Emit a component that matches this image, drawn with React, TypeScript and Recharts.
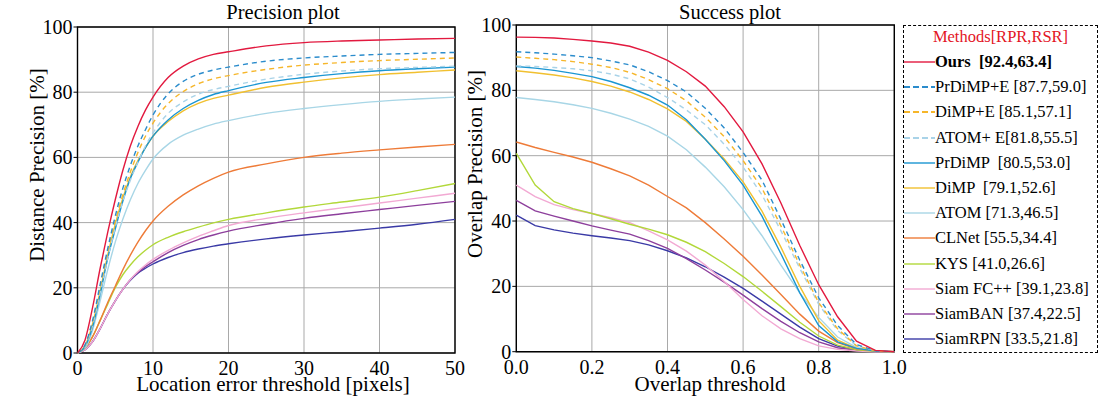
import { CartesianGrid, Line, LineChart, ReferenceArea, XAxis, YAxis } from 'recharts'

// precision plot: location error threshold in pixels
const precisionX = [0, 1, 2, 3, 4, 5, 6, 7, 8, 9, 10, 12, 14, 16, 18, 20, 25, 30, 35, 40, 45, 50]
const precisionTicks = [0, 10, 20, 30, 40, 50]

const oursP = [0, 4, 14, 26, 37, 47, 56, 63.5, 69.5, 74.5, 78.5, 84.5, 88, 90.2, 91.6, 92.4, 94.2, 95.2, 95.7, 96, 96.3, 96.5]
const prdimpEP = [0, 2.5, 10, 21, 32, 42, 50.5, 57.5, 63.5, 68.5, 73, 79.5, 83.3, 85.5, 86.8, 87.7, 89.5, 90.5, 91.1, 91.6, 91.9, 92.2]
const dimpEP = [0, 2.3, 9.5, 20, 31, 40.5, 48.5, 55.5, 61.5, 66.5, 70.5, 76.5, 80.2, 82.6, 84.1, 85.1, 87, 88.3, 89.1, 89.7, 90.1, 90.5]
const atomEP = [0, 2, 8.5, 18.5, 29, 38.5, 46.5, 53, 58.5, 63.5, 67.5, 73.5, 77, 79.4, 80.8, 81.8, 84, 85.5, 86.5, 87.2, 87.6, 88]
const prdimpP = [0, 2, 8, 18, 29, 38, 46.5, 53.5, 58.5, 63, 66.5, 71.5, 75, 77.5, 79.3, 80.5, 83, 84.5, 85.7, 86.6, 87.2, 87.7]
const dimpP = [0, 2.2, 9, 19, 30, 39.5, 47.5, 54, 59, 63, 66.5, 71, 74.3, 76.6, 78.1, 79.1, 81.5, 83.1, 84.4, 85.4, 86.1, 86.8]
const atomP = [0, 1.5, 7, 16, 25.5, 34, 41, 47, 52, 56, 59.5, 64, 66.8, 68.7, 70.2, 71.3, 73.5, 75, 76.2, 77.2, 77.9, 78.5]
const clnetP = [0, 1.5, 5, 10, 15.5, 20.5, 25.5, 30, 34, 37.5, 40.5, 45, 48.5, 51.3, 53.6, 55.5, 58, 60, 61.3, 62.3, 63.2, 64]
const kysP = [0, 1.5, 5, 10, 15, 20, 24, 27, 29.5, 31.5, 33.2, 35.5, 37.2, 38.6, 39.9, 41, 43, 44.8, 46.3, 47.8, 49.8, 52]
const siamfcP = [0, 1, 3.5, 7.5, 12, 16, 19.5, 22.5, 25, 27, 28.7, 31.5, 33.8, 35.8, 37.5, 39.1, 41.3, 43, 44.5, 46, 47.5, 49]
const siambanP = [0, 1, 3.5, 7.5, 12, 16, 19.5, 22.5, 24.7, 26.5, 28, 30.8, 33, 34.8, 36.2, 37.4, 39.5, 41.3, 42.7, 44, 45.3, 46.5]
const siamrpnP = [0, 1, 3.5, 7.5, 12, 16, 19.5, 22.3, 24.5, 26, 27.3, 29.3, 30.8, 31.9, 32.8, 33.5, 35, 36.2, 37.2, 38.3, 39.5, 41]

// success plot: overlap threshold
const successX = [0, 0.05, 0.1, 0.15, 0.2, 0.25, 0.3, 0.35, 0.4, 0.45, 0.5, 0.55, 0.6, 0.65, 0.7, 0.75, 0.8, 0.85, 0.9, 0.95, 1]
const successTicks = [0, 0.2, 0.4, 0.6, 0.8, 1]

const oursS = [96.3, 96.2, 96, 95.6, 95.1, 94.5, 93.5, 91.7, 89.2, 85.7, 81.3, 75, 67.3, 57.5, 45.5, 32.5, 20.5, 10.7, 3.2, 0.4, 0]
const prdimpES = [91.8, 91.5, 91.1, 90.6, 90, 89, 87.8, 85.7, 83, 79.5, 74.5, 68.5, 61, 52.5, 40.5, 28, 16.5, 8, 2.2, 0.3, 0]
const dimpES = [90.2, 89.8, 89.4, 88.8, 88, 87, 85.5, 83.3, 80.5, 76.8, 71.8, 65.8, 58.5, 50, 38.5, 26.5, 15, 7, 1.8, 0.3, 0]
const atomES = [87.5, 87.3, 87, 86.6, 86, 85, 83.5, 81, 77.8, 74, 69.5, 63.5, 56.5, 48, 37, 25.5, 14.5, 6.5, 1.8, 0.3, 0]
const prdimpS = [87.3, 86.8, 86.1, 85.2, 84.2, 82.7, 80.8, 78.5, 75.5, 71, 65, 58.5, 51, 41.5, 30, 18, 8, 3, 1, 0.2, 0]
const dimpS = [86, 85.4, 84.7, 83.8, 82.7, 81.3, 79.5, 77.2, 74.3, 70.5, 65, 59, 52, 43, 32, 20, 9.5, 3.5, 1, 0.2, 0]
const atomS = [77.8, 77.2, 76.5, 75.6, 74.5, 73, 71.2, 69, 66, 61.8, 56.5, 50.5, 43.5, 35.5, 26.5, 18, 10.5, 4.5, 1.3, 0.2, 0]
const clnetS = [64.2, 62.5, 61, 59.6, 58, 56, 53.8, 51, 47.5, 44, 39.5, 34.5, 29.2, 23.5, 17.5, 11.5, 6.3, 2.8, 0.9, 0.2, 0]
const kysS = [60.7, 51, 45.9, 43.8, 42.3, 40.7, 39, 37.5, 35.8, 33.5, 30.6, 27, 23, 18.5, 13.8, 9, 4.8, 2, 0.6, 0.1, 0]
const siamfcS = [51, 47.5, 45, 43.5, 42.3, 41, 39.5, 37, 34.2, 30.8, 26.5, 21.5, 16, 11, 7, 4, 1.8, 0.7, 0.2, 0, 0]
const siambanS = [46.3, 43.1, 41.5, 40, 38.5, 37.2, 36, 34, 31.6, 28.5, 25, 21.3, 17.3, 13.2, 9.3, 5.8, 3, 1.2, 0.4, 0.1, 0]
const siamrpnS = [41.8, 38.6, 37.3, 36.3, 35.5, 34.8, 34, 32.7, 30.9, 28.7, 26, 22.8, 19.4, 15.5, 11.5, 7.5, 4, 1.7, 0.6, 0.1, 0]

const yTicks = [0, 20, 40, 60, 80, 100]

const methods = ['Ours', 'PrDiMP+E', 'DiMP+E', 'ATOM+E', 'PrDiMP', 'DiMP', 'ATOM', 'CLNet', 'KYS', 'SiamFC++', 'SiamBAN', 'SiamRPN']
const legendLabels = [
	'Ours  [92.4,63.4]',
	'PrDiMP+E [87.7,59.0]',
	'DiMP+E [85.1,57.1]',
	'ATOM+ E[81.8,55.5]',
	'PrDiMP  [80.5,53.0]',
	'DiMP  [79.1,52.6]',
	'ATOM [71.3,46.5]',
	'CLNet [55.5,34.4]',
	'KYS [41.0,26.6]',
	'Siam FC++ [39.1,23.8]',
	'SiamBAN [37.4,22.5]',
	'SiamRPN [33.5,21.8]',
]
const precisionSeries = [oursP, prdimpEP, dimpEP, atomEP, prdimpP, dimpP, atomP, clnetP, kysP, siamfcP, siambanP, siamrpnP]
const successSeries = [oursS, prdimpES, dimpES, atomES, prdimpS, dimpS, atomS, clnetS, kysS, siamfcS, siambanS, siamrpnS]

const colors = ['#e2193f', '#2b8ccc', '#f6b62a', '#a9d3e8', '#1b96d2', '#f1c030', '#a8d6e6', '#ee7b38', '#b2d83a', '#f2a9d3', '#8d3f9c', '#3a3aa6']
const dashed = [false, true, true, true, false, false, false, false, false, false, false, false]

const FONT = '"Liberation Serif", "Times New Roman", serif'

const buildRows = (xs: number[], series: number[][]) =>
	xs.map((x, i) => {
		const row: Record<string, number> = { x }
		methods.forEach((m, k) => {
			row[m] = series[k][i]
		})
		return row
	})

const precisionData = buildRows(precisionX, precisionSeries)
const successData = buildRows(successX, successSeries)

const drawOrder = methods.map((_, i) => i).reverse()

const XTick = ({ x, y, payload, fmt }: any) => (
	<text x={x} y={y + 22} textAnchor='middle' fontFamily={FONT} fontSize={20} fill='#000'>
		{fmt(payload.value)}
	</text>
)

const YTick = ({ x, y, payload }: any) => (
	<text x={x - 1} y={y + 7} textAnchor='end' fontFamily={FONT} fontSize={20} fill='#000'>
		{payload.value}
	</text>
)

const Plot = ({
	data,
	width,
	yWidth,
	xHeight,
	top,
	right,
	xTicks,
	xMax,
	curve,
	fmt,
}: {
	data: Record<string, number>[]
	width: number
	yWidth: number
	xHeight: number
	top: number
	right: number
	xTicks: number[]
	xMax: number
	curve: 'monotone' | 'linear'
	fmt: (v: number) => string
}) => (
	<LineChart width={width} height={398} data={data} margin={{ top, right, bottom: 0, left: 0 }}>
		<CartesianGrid stroke='#a9a9a9' strokeWidth={1} />
		<XAxis
			type='number'
			dataKey='x'
			domain={[0, xMax]}
			ticks={xTicks}
			height={xHeight}
			axisLine={false}
			tickLine={false}
			tickSize={0}
			tickMargin={0}
			tick={<XTick fmt={fmt} />}
			interval={0}
		/>
		<YAxis
			type='number'
			domain={[0, 100]}
			ticks={yTicks}
			width={yWidth}
			axisLine={false}
			tickLine={{ stroke: '#000' }}
			tickSize={4}
			tickMargin={0}
			tick={<YTick />}
			interval={0}
		/>
		{drawOrder.map(k => (
			<Line
				key={methods[k]}
				type={curve}
				dataKey={methods[k]}
				stroke={colors[k]}
				strokeWidth={1.4}
				strokeDasharray={dashed[k] ? '5 4' : undefined}
				dot={false}
				isAnimationActive={false}
			/>
		))}
		<ReferenceArea x1={0} x2={xMax} y1={0} y2={100} fill='none' fillOpacity={0} stroke='#000' strokeWidth={1.4} />
	</LineChart>
)

const Legend = () => (
	<div
		style={{
			position: 'absolute',
			left: 903,
			top: 25,
			width: 193,
			height: 326,
			border: '1px dashed #000',
			background: '#fff',
			fontFamily: FONT,
			fontSize: 16.5,
			color: '#000',
		}}
	>
		<div style={{ position: 'absolute', left: 0, width: 193, top: 1, textAlign: 'center', color: '#e3151f' }}>
			Methods[RPR,RSR]
		</div>
		{methods.map((m, i) => (
			<div
				key={m}
				style={{
					position: 'absolute',
					left: 0,
					top: 26 + i * 25.2,
					height: 20,
					display: 'flex',
					alignItems: 'center',
					whiteSpace: 'pre',
				}}
			>
				<svg width={31} height={20}>
					<line
						x1={0}
						x2={31}
						y1={10}
						y2={10}
						stroke={colors[i]}
						strokeWidth={dashed[i] ? 2 : 1.4}
						strokeDasharray={dashed[i] ? '6 3' : undefined}
					/>
				</svg>
				<span style={{ fontWeight: i === 0 ? 'bold' : 'normal' }}>{legendLabels[i]}</span>
			</div>
		))}
	</div>
)

const Titles = () => (
	<svg
		width={1106}
		height={398}
		style={{ position: 'absolute', left: 0, top: 0, pointerEvents: 'none' }}
		fontFamily={FONT}
		fill='#000'
	>
		<text x={283} y={19} fontSize={20.5} textAnchor='middle'>Precision plot</text>
		<text x={730} y={19} fontSize={20.5} textAnchor='middle'>Success plot</text>
		<text x={273} y={391} fontSize={21} textAnchor='middle'>Location error threshold [pixels]</text>
		<text x={710} y={391} fontSize={21} textAnchor='middle'>Overlap threshold</text>
		<text x={44} y={165} fontSize={21} textAnchor='middle' transform='rotate(-90 44 165)'>
			Distance Precision [%]
		</text>
		<text x={482} y={164} fontSize={21} textAnchor='middle' transform='rotate(-90 482 164)'>
			Overlap Precision [%]
		</text>
	</svg>
)

export default function App() {
	return (
		<div style={{ position: 'absolute', left: 0, top: 0, width: 1106, height: 398, background: '#fff' }}>
			<div style={{ position: 'absolute', left: 0, top: 0 }}>
				<Plot
					data={precisionData}
					width={475}
					yWidth={77.5}
					xHeight={45}
					top={27}
					right={20}
					xTicks={precisionTicks}
					xMax={50}
					curve='monotone'
					fmt={v => String(v)}
				/>
			</div>
			<div style={{ position: 'absolute', left: 460, top: 0 }}>
				<Plot
					data={successData}
					width={450}
					yWidth={56.3}
					xHeight={46.3}
					top={25}
					right={15.7}
					xTicks={successTicks}
					xMax={1}
					curve='linear'
					fmt={v => v.toFixed(1)}
				/>
			</div>
			<Titles />
			<Legend />
		</div>
	)
}
